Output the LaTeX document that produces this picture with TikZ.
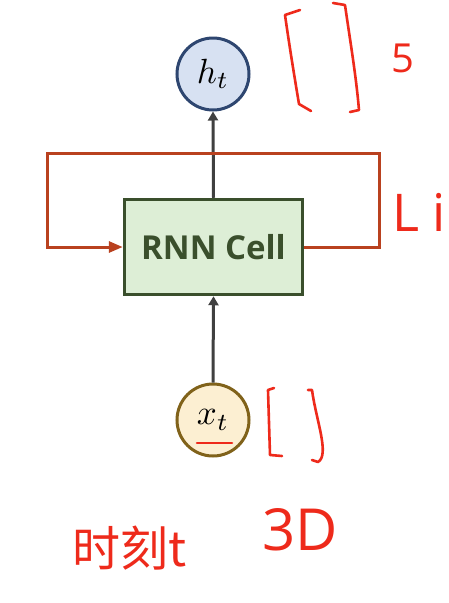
\documentclass[tikz,border=0pt]{standalone}
\usepackage{graphicx}
\usepackage{fontspec}
\setsansfont{Open Sans}
\newfontfamily\cjk{Noto Sans CJK SC}
\usetikzlibrary{arrows.meta}
\definecolor{hblue}{HTML}{D7E1F2}
\definecolor{hnavy}{HTML}{2E4670}
\definecolor{cgreen}{HTML}{DDEED6}
\definecolor{cdark}{HTML}{3A4F2C}
\definecolor{xfill}{HTML}{FCEFD2}
\definecolor{xbrown}{HTML}{80621A}
\definecolor{loopred}{HTML}{B9411F}
\definecolor{ink}{HTML}{EE2A1B}
\definecolor{arrgray}{HTML}{404040}
\tikzset{
  vec/.style={circle, minimum size=72pt, inner sep=0pt, line width=3pt},
  cellbox/.style={draw=cdark, fill=cgreen, line width=3.5pt, minimum width=178pt, minimum height=95pt, inner sep=0pt, font=\sffamily\bfseries\fontsize{33}{36}\selectfont, text=cdark},
  flow/.style={arrgray, line width=3pt, -{Triangle[length=9pt,width=10pt]}},
  loop/.style={loopred, line width=3pt},
  hand/.style={ink, line width=2.6pt, line cap=round, line join=round},
  handtext/.style={ink, inner sep=0pt}
}
\begin{document}
\begin{tikzpicture}[x=1pt,y=-1pt]
\useasboundingbox (0,0) rectangle (448,603);
\clip (0,0) rectangle (448,603);
\fill[white] (0,0) rectangle (448,603);
% nodes
\node[vec, draw=hnavy, fill=hblue] (h) at (213,74) {\raisebox{3pt}{\scalebox{3.5}{$h_t$}}};
\node[cellbox] (cell) at (213.5,247) {RNN Cell};
\node[vec, draw=xbrown, fill=xfill] (x) at (213,420) {\raisebox{-1pt}{\scalebox{3.5}{$x_t$}}};
% connectors
\draw[flow] (cell.north) -- (h.south);
\draw[flow] (x.north) -- (cell.south);
\coordinate (r1) at (379,247);
\coordinate (r2) at (379,153);
\coordinate (l2) at (47,153);
\coordinate (l1) at (47,247);
\draw[loop, -{Triangle[length=14pt,width=11pt]}] (cell.east) -- (r1) -- (r2) -- (l2) -- (l1) -- (cell.west);
% handwritten annotations
\draw[hand] (300,10) -- (285,15) .. controls (290,50) and (295,80) .. (299,104) -- (311,111);
\draw[hand] (333,3) -- (345,5) .. controls (350,40) and (356,75) .. (359,110) -- (350,112);
\node[handtext, font=\sffamily\fontsize{40}{42}\selectfont] (five) at (403,58) {5};
\node[handtext, font=\sffamily\fontsize{52}{54}\selectfont, anchor=west] (li) at (392,212) {L i};
\draw[hand] (197,443) -- (232,443);
\draw[hand] (274,388) -- (268,390) -- (270,455) -- (282,456);
\draw[hand] (308,390) -- (312,390) .. controls (316,420) and (330,455) .. (318,462) -- (312,460);
\node[handtext, font=\cjk\fontsize{48}{50}\selectfont] (time) at (130,548) {时刻t};
\node[handtext, font=\sffamily\fontsize{58}{60}\selectfont] (td) at (300,530) {3D};
\end{tikzpicture}
\end{document}
